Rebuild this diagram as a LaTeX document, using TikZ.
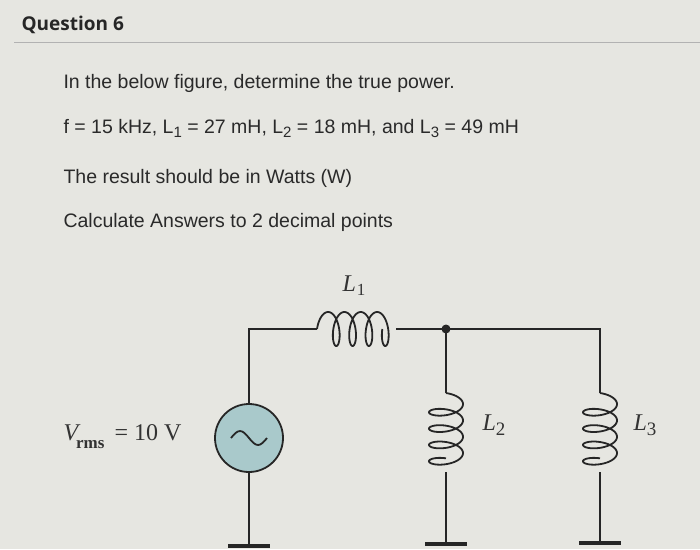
\documentclass[tikz,border=0pt]{standalone}
\usepackage{fontspec}
\setmainfont{Liberation Sans}
\newfontfamily\serifl{Liberation Serif}
\newfontfamily\headf{Open Sans}
\definecolor{bg}{HTML}{E6E6E1}
\definecolor{srcfill}{HTML}{A9C9CB}
\definecolor{txt}{HTML}{2A2A2A}
\newcommand{\sbs}[1]{\raisebox{-4pt}{\fontsize{15}{15}\selectfont #1}}
\begin{document}
\begin{tikzpicture}[x=1pt,y=-1pt,
  wire/.style={line width=1.1pt,black!85},
  coil/.style={line width=1.8pt,black!85,smooth},
  gnd/.style={line width=4pt,black!85},
  body/.style={anchor=base west,text=txt,font=\fontsize{19.5}{22}\selectfont},
  lab/.style={font=\serifl\itshape\fontsize{24}{26}\selectfont,text=black!80}]
\fill[bg] (0,0) rectangle (700,549);
\useasboundingbox (0,0) rectangle (700,549);
\node[anchor=base west,font=\headf\bfseries\fontsize{19}{22}\selectfont,text=black!85] (title) at (18,30) {Question 6};
\draw[black!30,line width=0.8pt] (14,42) -- (700,42);
\node[body] (t1) at (60,88) {In the below figure, determine the true power.};
\node[body] (t2) at (60,133) {f = 15 kHz, L\sbs{1} = 27 mH, L\sbs{2} = 18 mH, and L\sbs{3} = 49 mH};
\node[body] (t3) at (60,183) {The result should be in Watts (W)};
\node[body] (t4) at (60,227) {Calculate Answers to 2 decimal points};
% circuit
\coordinate (a1) at (317,329);
\coordinate (b1) at (396,329);
\coordinate (j) at (446,329);
\coordinate (tr) at (600,329);
\coordinate (g1) at (249,546);
\coordinate (a2) at (446,393);
\coordinate (b2) at (446,472);
\coordinate (g2) at (446,544);
\coordinate (a3) at (600,393);
\coordinate (b3) at (600,472);
\coordinate (g3) at (600,543);
\node[circle,draw=black!85,line width=1.8pt,fill=srcfill,minimum size=68pt,inner sep=0] (src) at (249,438) {};
\draw[black!85,line width=1.8pt] ([xshift=-18pt]src.center) sin ++(9,-7) cos ++(9,7) sin ++(9,7) cos ++(9,-7);
\draw[wire] (src.north) |- (a1);
\draw[coil] plot[domain=-90:1350,samples=240] ({317+7+2.6*rad(\x+90)+7*sin(\x)},{329-17*cos(\x)});
\draw[wire] (b1) -- (tr) -- (a3);
\draw[coil] plot[domain=-90:1350,samples=240] ({600+17*cos(\x)},{393+7+2.6*rad(\x+90)+7*sin(\x)});
\draw[wire] (b3) -- (g3);
\draw[wire] (j) -- (a2);
\draw[coil] plot[domain=-90:1350,samples=240] ({446+17*cos(\x)},{393+7+2.6*rad(\x+90)+7*sin(\x)});
\draw[wire] (b2) -- (g2);
\draw[wire] (src.south) -- (g1);
\fill[black!85] (j) circle (4.5pt);
\draw[gnd] ([xshift=-21pt]g1) -- ([xshift=21pt]g1);
\draw[gnd] ([xshift=-21pt]g2) -- ([xshift=21pt]g2);
\draw[gnd] ([xshift=-21pt]g3) -- ([xshift=21pt]g3);
\node[lab] (l1) at (354,286) {L\kern1pt\raisebox{-4pt}{\upshape\fontsize{17}{17}\selectfont 1}};
\node[lab] (l2) at (494,425) {L\raisebox{-5pt}{\upshape\fontsize{19}{19}\selectfont 2}};
\node[lab] (l3) at (645,425) {L\raisebox{-5pt}{\upshape\fontsize{19}{19}\selectfont 3}};
\node[lab,anchor=base west] (vs) at (60,440) {V\kern-2pt\raisebox{-8pt}{\upshape\bfseries\fontsize{17}{17}\selectfont rms}\kern10pt{\upshape = 10 V}};
\end{tikzpicture}
\end{document}
